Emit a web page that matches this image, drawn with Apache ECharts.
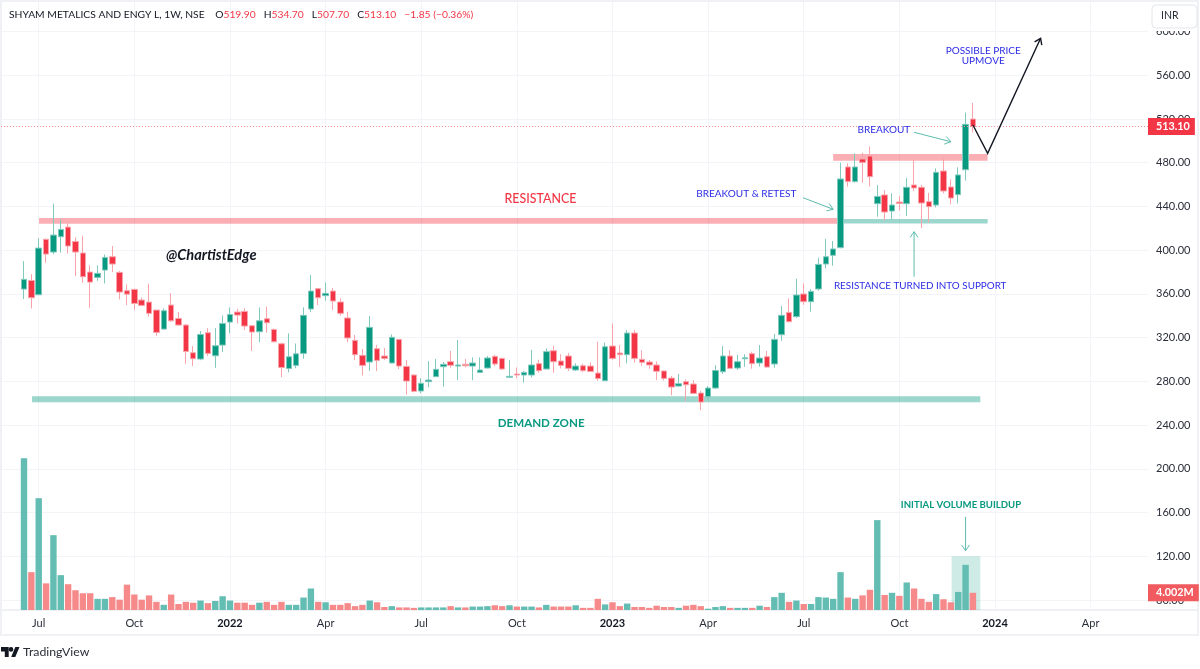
<!DOCTYPE html>
<html>
<head>
<meta charset="utf-8">
<title>SHYAM METALICS AND ENGY L</title>
<style>
    html, body { margin: 0; padding: 0; background: #fff; }
    #chart { width: 1200px; height: 669px; }
</style>
<script src="https://cdn.jsdelivr.net/npm/echarts@6/dist/echarts.min.js"></script>
</head>
<body>
<div id="chart"></div>
<script>
// weekly bars, bar 0 is the week of 21 Jun 2021
var opens = [
    364.4,372.3,359.2,409.9,398.3,412.3,421.1,408,397.4,380,
    375.1,381.8,394,379.7,362.9,364.1,354.4,352.5,345.2,327.8,
    349.8,337.6,331.5,306.2,300.4,324.5,303.4,313.2,334.2,343.4,
    344,330.9,325.4,337.3,327.5,314.4,291.8,294.6,305.6,346.2,
    364.8,358.4,362.6,352.6,338,317.5,303.8,297.7,309.9,303.2,
    296.8,318.4,293.7,285.8,271.2,279.7,284.3,293.4,298,294,
    295.6,294,288.2,292.2,302.9,301,283.7,286.7,285.8,285.8,
    296.2,291.3,308,298.6,303.2,290.4,294.3,294,287.6,280.6,
    312.3,305.9,304.4,324.2,300.1,297.7,295,289.5,283,275.7,
    279.7,277.6,269.3,266,273.9,288.8,303.2,292.2,300.7,305.3,
    296.8,302.6,295.9,322.7,343.1,339.2,359.9,352.9,364.5,387.3,
    395.3,402.3,476.1,462.7,483.4,486.1,442.5,450.5,435.8,444,
    442.5,459.6,457.5,444.4,441.3,472.4,457.8,450.8,473.6,519.9
];
var closes = [
    373.3,356.5,401.9,396.4,413.8,419,403.8,398.3,375.7,370.8,
    378.8,393.4,387.3,361.7,359.8,351.3,349.5,342.2,324.8,344.6,
    335.4,331.5,307.4,300.7,322.9,305.6,312.6,333,341.2,340.6,
    330.6,325.1,335.4,333.6,316.2,292.7,302.5,305.2,340.4,362.6,
    356.5,360.5,353.5,342.2,319.7,304.4,294.6,329.4,299.2,301,
    320.3,294,280.3,270.9,278.2,281.2,291,295.6,294.7,295,
    294.3,296.8,290.4,301.4,295.9,291.3,284.6,285.8,288.2,295,
    289.8,307.2,298,294.6,291.9,294,289.8,289.1,282.7,311.7,
    301,304.4,324.2,301,297.4,295,289.2,282.7,274.8,277.9,
    276.9,269,261.1,273.9,290,303.2,291.9,298,301.6,296.2,
    301.3,293.1,318.4,340.4,334.6,359,352.9,362.3,387,394,
    401.1,465.1,462.7,476.1,480.3,467.2,449.2,434.9,441.3,442.8,
    457.5,456.9,443.1,439.8,471.2,454.1,447.7,468.8,515.1,513.1
];
var lows = [
    355.3,346.7,359,388.5,396.4,397.7,397,376.3,370.2,347.3,
    372,369.6,380,355,349.8,345.2,349.2,339.1,321.7,327.5,
    334.5,330.6,296.1,294,299.4,303.4,292.4,306.8,323.9,333,
    326.9,307.7,315.9,324.5,315.6,283.9,288.2,292.1,300.7,343.4,
    349.8,353.8,345.3,340.1,316,299.5,285.5,289.5,289.5,299.5,
    296.5,291.3,267.8,270,269,274.5,284,275.1,292.5,281.2,
    292.8,281,288,291.9,294,290.4,283.4,282.8,278.8,283.4,
    287.9,291,287.9,291.9,289.5,289.5,288.5,288.5,280.6,280.3,
    299.8,293.1,296.5,297.1,294.3,291.6,281.2,280.9,267.2,275.1,
    261.7,268.4,253.5,263.5,273,286.7,291,290.4,293.4,291.6,
    293.4,292.5,292.5,317.2,334,338,350,343.7,363,383.4,
    385.8,401.7,458.1,461.7,461.7,458.1,430.6,427,427.6,436.1,
    431.3,454.1,420.3,425.2,439.2,452,441.9,442.8,463.6,507.7
];
var highs = [
    390,378,410.8,410.8,442.5,428.2,424.5,411.7,413.2,386.1,
    386.1,396.1,403.8,381,368.7,365,356.8,369.3,345.2,346.7,
    360.8,343.4,332.4,312.3,326,328.7,328.7,340.3,347.6,346.4,
    347,331.2,347.6,348.3,328.4,315.3,323.9,314.7,347.7,377.3,
    365.1,370.3,365.4,355.9,343.7,322.4,309.6,339.8,313.3,310.5,
    323,318.4,299.5,286.4,283,298.6,300.4,297.7,307.8,317.8,
    300.4,302,302,303.2,304.1,301.7,299.5,292.8,289.5,308.7,
    299.8,310.2,312.6,304.7,305.9,296.5,296.2,297.4,316.3,315.7,
    333,313.2,327,327,308.4,299.5,298.3,290,284.9,286.7,
    281.8,281.2,271.5,275.7,294.6,312.3,308.4,304.1,304.7,307.1,
    313.2,307.8,323.3,348.9,355.9,373.9,369.7,364.5,393.1,410.2,
    408.4,480,479.4,488.6,489.2,494.7,459.6,455,452,449.5,
    466,482.5,459.6,452.3,474.8,484,464.8,475.8,525.8,534.7
];
// volume in millions
var volumes = [
    35.3,8.8,26,6.2,17.4,8.1,6,4.6,3.9,3.9,
    2.6,2.6,3,2.4,5.9,3.6,2.4,3.4,1.9,1.2,
    3.6,1.4,1.9,1.7,2.2,1.6,2.1,3.2,2.2,1.7,
    1.7,1.2,1.7,1.9,1.2,1.9,1.2,1.2,2.9,5,
    1.9,1.8,1.2,1.2,1.6,0.9,1.2,2.2,1.8,0.7,
    0.9,0.6,0.6,0.5,0.6,0.6,0.6,0.6,0.9,0.6,
    0.6,0.8,0.8,0.9,1.1,0.9,1.1,0.8,0.8,0.8,
    0.6,1.2,0.8,0.8,0.8,1.1,0.5,0.5,2.6,1.3,
    1.8,0.9,1.5,0.7,0.7,0.5,1,0.7,0.7,0.5,
    1,1.2,0.9,0.3,0.7,0.9,0.5,0.5,0.5,0.5,
    1,0.7,3,4,1.9,2.2,1.4,1.4,3,2.9,
    2.6,8.8,2.9,2.6,3.4,4.7,20.9,3.5,4,3.3,
    6.4,5,2.6,1.9,3.7,2.5,1.8,4.2,10.5,4.002
];

var timeTicks = [2, 15, 28, 41, 54, 67, 80, 93, 106, 119, 132, 145];
var timeLabels = ['Jul', 'Oct', '2022', 'Apr', 'Jul', 'Oct', '2023', 'Apr', 'Jul', 'Oct', '2024', 'Apr'];
var priceTicks = [80, 120, 160, 200, 240, 280, 320, 360, 400, 440, 480, 520, 560, 600];

var symbolName = 'SHYAM METALICS AND ENGY L, 1W, NSE';
var lastOpen = 519.9, lastHigh = 534.7, lastLow = 507.7, lastClose = 513.1;
var lastChange = '\u22121.85 (\u22120.36%)';
var lastVolume = 4.002;

var GREEN = '#089981';
var RED = '#F23645';
var BLUE = '#2c2ce6';
var ARROW_GREEN = '#5dbcae';
var INK = '#2a2e39';
var FONT = 'Lato, "Noto Sans", sans-serif';

// drawn text, placed in bar number / price
var notes = [
    {text: 'RESISTANCE', x: 70.2, y: 446.8, color: RED, font: '500 12.4px Lato', align: 'center'},
    {text: '@ChartistEdge', x: 19.3, y: 395.6, color: '#131722', font: 'italic bold 14.6px Lato', align: 'left'},
    {text: 'BREAKOUT & RETEST', x: 91.4, y: 451.4, color: BLUE, font: '10px Lato', align: 'left'},
    {text: 'BREAKOUT', x: 113.3, y: 509.9, color: BLUE, font: '10px Lato', align: 'left'},
    {text: 'POSSIBLE PRICE', x: 130.4, y: 582.2, color: BLUE, font: '10px Lato', align: 'center'},
    {text: 'UPMOVE', x: 130.4, y: 573, color: BLUE, font: '10px Lato', align: 'center'},
    {text: 'RESISTANCE TURNED INTO SUPPORT', x: 110.1, y: 367.2, color: BLUE, font: '9.9px Lato', align: 'left'},
    {text: 'DEMAND ZONE', x: 70.3, y: 241.9, color: GREEN, font: 'bold 11.6px Lato', align: 'center'},
    {text: 'INITIAL VOLUME BUILDUP', x: 119.2, y: 166.9, color: GREEN, font: 'bold 9.6px Lato', align: 'left'}
];

// drawn arrows, the head goes on the last point
var arrows = [
    {points: [[105.9, 448], [110, 437.4]], color: ARROW_GREEN, width: 1},
    {points: [[121, 507.8], [126, 499.2]], color: ARROW_GREEN, width: 1},
    {points: [[121, 375.7], [121, 416.9]], color: ARROW_GREEN, width: 1},
    {points: [[128, 156.2], [128, 125.1]], color: ARROW_GREEN, width: 1},
    {points: [[129, 514.5], [131, 488.6], [138.2, 593.8]], color: '#131722', width: 1.4}
];

function renderNote(params, api) {
    var note = notes[params.dataIndex];
    var p = api.coord([note.x, note.y]);
    return {
        type: 'text',
        style: {
            text: note.text,
            x: p[0],
            y: p[1],
            fill: note.color,
            font: note.font,
            align: note.align,
            verticalAlign: 'middle'
        }
    };
}

function renderArrow(params, api) {
    var arrow = arrows[params.dataIndex];
    var pts = [];
    for (var i = 0; i < arrow.points.length; i++) {
        pts.push(api.coord(arrow.points[i]));
    }
    var end = pts[pts.length - 1];
    var before = pts[pts.length - 2];
    var angle = Math.atan2(end[1] - before[1], end[0] - before[0]);
    var head = 7;
    var left = [end[0] - head * Math.cos(angle - 0.6), end[1] - head * Math.sin(angle - 0.6)];
    var right = [end[0] - head * Math.cos(angle + 0.6), end[1] - head * Math.sin(angle + 0.6)];
    var style = {stroke: arrow.color, lineWidth: arrow.width, fill: null};
    return {
        type: 'group',
        children: [
            {type: 'polyline', shape: {points: pts}, style: style},
            {type: 'polyline', shape: {points: [left, end, right]}, style: style}
        ]
    };
}

var candleData = [];
var volumeData = [];
for (var i = 0; i < opens.length; i++) {
    candleData.push([i, opens[i], closes[i], lows[i], highs[i]]);
    volumeData.push({
        value: [i, volumes[i]],
        itemStyle: {color: closes[i] >= opens[i] ? '#63bdb3' : '#f68a8a'}
    });
}

var titleText = '{n|' + symbolName + '}    '
    + '{k|O}{v|' + lastOpen.toFixed(2) + '}   '
    + '{k|H}{v|' + lastHigh.toFixed(2) + '}   '
    + '{k|L}{v|' + lastLow.toFixed(2) + '}   '
    + '{k|C}{v|' + lastClose.toFixed(2) + '}   '
    + '{v|' + lastChange + '}';

var option = {
    animation: false,
    backgroundColor: '#ffffff',
    textStyle: {fontFamily: FONT},
    title: {
        text: titleText,
        left: 9,
        top: 10,
        padding: 0,
        textStyle: {
            fontSize: 10.3,
            fontWeight: 'normal',
            fontFamily: FONT,
            rich: {
                n: {fontFamily: FONT, fontSize: 10.3, color: '#131722'},
                k: {fontFamily: FONT, fontSize: 10.3, color: '#131722'},
                v: {fontFamily: FONT, fontSize: 10.3, color: RED}
            }
        }
    },
    grid: {left: 1, right: 52, top: 1, bottom: 59},
    xAxis: {
        type: 'value',
        min: -3.127,
        max: 152.8,
        axisLine: {onZero: false, lineStyle: {color: '#eef0f4', width: 2}},
        axisTick: {show: false, customValues: timeTicks},
        splitLine: {show: true, lineStyle: {color: '#f3f4f7', width: 1}},
        axisLabel: {
            customValues: timeTicks,
            margin: 8,
            color: INK,
            fontSize: 11,
            fontFamily: FONT,
            formatter: function (value) {
                var label = timeLabels[timeTicks.indexOf(value)];
                if (label.length === 4) {
                    return '{y|' + label + '}';
                }
                return label;
            },
            rich: {y: {fontWeight: 'bold', fontSize: 11, color: '#131722', fontFamily: FONT}}
        }
    },
    yAxis: [{
        type: 'value',
        position: 'right',
        min: 70.9,
        max: 627.9,
        axisLine: {show: false},
        axisTick: {show: false, customValues: priceTicks},
        splitLine: {show: true, lineStyle: {color: '#f3f4f7', width: 1}},
        axisLabel: {
            customValues: priceTicks,
            margin: 8,
            color: INK,
            fontSize: 11,
            fontFamily: FONT,
            formatter: function (value) {
                return value.toFixed(2);
            }
        }
    }, {
        type: 'value',
        show: false,
        min: 0,
        max: 141.6,
        splitLine: {show: false}
    }],
    series: [{
        name: 'volume',
        type: 'bar',
        yAxisIndex: 1,
        barWidth: 6.4,
        data: volumeData,
        markArea: {
            silent: true,
            itemStyle: {color: 'rgba(8,153,129,0.2)'},
            data: [[{xAxis: 126.1, yAxis: 0}, {xAxis: 130, yAxis: 12.5}]]
        },
        markLine: {
            silent: true,
            symbol: 'none',
            lineStyle: {color: 'rgba(0,0,0,0)'},
            label: {
                show: true,
                position: 'end',
                distance: 0,
                formatter: lastVolume.toFixed(3) + 'M',
                backgroundColor: '#F15A5F',
                color: '#ffffff',
                fontFamily: FONT,
                fontSize: 10.8,
                fontWeight: 'bold',
                padding: [3, 5, 3, 8]
            },
            data: [{yAxis: lastVolume}]
        }
    }, {
        name: 'price',
        type: 'candlestick',
        barWidth: 6,
        data: candleData,
        encode: {x: 0, y: [1, 2, 3, 4]},
        itemStyle: {
            color: GREEN,
            color0: RED,
            borderColor: '#7fc9bd',
            borderColor0: '#f9a3ab',
            borderWidth: 1
        },
        markArea: {
            silent: true,
            data: [
                [{xAxis: 2.04, yAxis: 429.4, itemStyle: {color: 'rgba(242,54,69,0.4)'}}, {xAxis: 110.7, yAxis: 424.2}],
                [{xAxis: 110.7, yAxis: 428.5, itemStyle: {color: 'rgba(8,153,129,0.4)'}}, {xAxis: 131, yAxis: 424.5}],
                [{xAxis: 1.09, yAxis: 266.5, itemStyle: {color: 'rgba(8,153,129,0.4)'}}, {xAxis: 130, yAxis: 261}],
                [{xAxis: 110, yAxis: 488, itemStyle: {color: 'rgba(242,54,69,0.4)'}}, {xAxis: 131, yAxis: 481.9}]
            ]
        },
        markLine: {
            silent: true,
            symbol: 'none',
            label: {
                position: 'end',
                distance: 0,
                formatter: lastClose.toFixed(2),
                backgroundColor: RED,
                color: '#ffffff',
                fontFamily: FONT,
                fontSize: 10.8,
                fontWeight: 'bold',
                padding: [3, 5, 3, 8]
            },
            data: [{
                yAxis: lastClose,
                lineStyle: {color: '#f7929b', type: [1, 2], width: 1, opacity: 1}
            }]
        }
    }, {
        name: 'notes',
        type: 'custom',
        clip: false,
        silent: true,
        z: 10,
        renderItem: renderNote,
        data: notes.map(function (n) { return [n.x, n.y]; })
    }, {
        name: 'arrows',
        type: 'custom',
        clip: false,
        silent: true,
        z: 10,
        renderItem: renderArrow,
        data: arrows.map(function (a) { return a.points[0]; })
    }],
    graphic: [
        // pane frame
        {type: 'rect', z: 1, silent: true, shape: {x: 1, y: 1, width: 1197, height: 634},
            style: {fill: null, stroke: '#f0f1f5', lineWidth: 2}},
        {type: 'line', z: 1, silent: true, shape: {x1: 1148, y1: 610, x2: 1198, y2: 610},
            style: {stroke: '#eef0f4', lineWidth: 2}},
        // currency box, it hides the top half of the 600.00 label
        {type: 'rect', z: 99, silent: true, shape: {x: 1150, y: 24, width: 47, height: 7},
            style: {fill: '#ffffff'}},
        {type: 'rect', z: 100, silent: true, shape: {x: 1152, y: 5, width: 45, height: 23, r: 4},
            style: {fill: '#ffffff', stroke: '#e3e5ec', lineWidth: 1}},
        {type: 'text', z: 101, silent: true, x: 1161, y: 16,
            style: {text: 'INR', fill: INK, font: '10.5px Lato', verticalAlign: 'middle'}},
        // logo
        {type: 'polygon', z: 100, silent: true,
            shape: {points: [[1, 647], [8.7, 647], [8.7, 657], [4.8, 657], [4.8, 651.6], [1, 651.6]]},
            style: {fill: '#131722'}},
        {type: 'circle', z: 100, silent: true, shape: {cx: 11, cy: 649.4, r: 2.3},
            style: {fill: '#131722'}},
        {type: 'polygon', z: 100, silent: true,
            shape: {points: [[15.3, 647], [19.5, 647], [15.3, 657], [11.2, 657]]},
            style: {fill: '#131722'}},
        {type: 'text', z: 100, silent: true, x: 23, y: 652,
            style: {text: 'TradingView', fill: INK, font: '12.3px Lato', verticalAlign: 'middle'}}
    ]
};

var myChart = echarts.init(document.getElementById('chart'));
myChart.setOption(option);
</script>
</body>
</html>
